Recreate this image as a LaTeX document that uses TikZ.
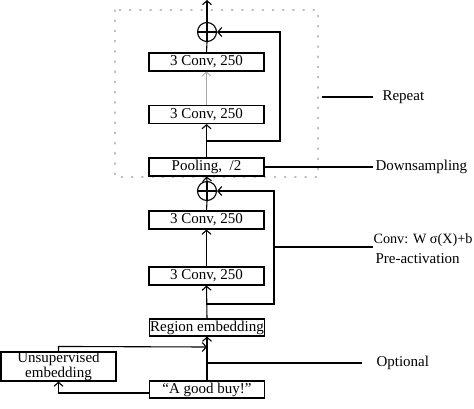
\documentclass[tikz,border=0pt]{standalone}
\usepackage{fontspec}
\setmainfont{Liberation Serif}
\usetikzlibrary{arrows.meta}
\begin{document}
\begin{tikzpicture}[x=1pt,y=-1pt, line width=1.1pt,
  txt/.style={font=\fontsize{15}{16}\selectfont},
  box/.style={draw, txt, minimum width=115pt, minimum height=18pt, inner sep=0pt},
  lbl/.style={txt, anchor=west, inner sep=0pt},
  arr/.style={-{Straight Barb[length=4pt,width=9pt]}},
  plus/.style={draw, circle, minimum size=19pt, inner sep=0pt,
    path picture={\draw (path picture bounding box.north) -- (path picture bounding box.south)
                        (path picture bounding box.west) -- (path picture bounding box.east);}}]
\useasboundingbox (0,0) rectangle (474,408);
% repeat region
\draw[black!25, line width=1.5pt, dash pattern=on 1.2pt off 9pt, line cap=round] (115,10) rectangle (318,177);
% nodes
\node[plus] (p1) at (207,32) {};
\node[box] (c1) at (206.5,62) {3 Conv, 250};
\node[box] (c2) at (206.5,114.5) {3 Conv, 250};
\node[box] (pool) at (206.5,167) {Pooling,~~/2};
\node[plus] (p2) at (207,191) {};
\node[box] (c3) at (206.5,220) {3 Conv, 250};
\node[box] (c4) at (206.5,276) {3 Conv, 250};
\node[box, minimum height=17pt] (reg) at (207,327.5) {Region embedding};
\node[box, minimum height=29pt, align=center, font=\fontsize{15}{15}\selectfont] (unsup) at (58.5,366.5) {Unsupervised\\embedding};
\node[box, minimum height=17pt] (buy) at (207,389.5) {“A good buy!”};
% labels
\node[lbl] (rep) at (382,97) {Repeat};
\node[lbl] (down) at (375,167) {Downsampling};
\node[lbl, font=\fontsize{14.2}{16}\selectfont] (conv) at (373,240) {Conv: W σ(X)+b};
\node[lbl] (pre) at (375,259) {Pre-activation};
\node[lbl] (opt) at (376,363) {Optional};
% coordinates
\coordinate (top) at (207,0);
\coordinate (s1) at (207,141);
\coordinate (s2) at (207,304);
\coordinate (k) at (274,247);
\coordinate (kend) at (373,247);
\coordinate (r) at (322,97);
\coordinate (jn) at (207,347);
\coordinate (o) at (207,363);
% connectors
\draw[arr] (p1) -- (top);
\draw (c1.north) -- (p1.south);
\draw[arr, black!35, line width=0.8pt] (c2.north) -- (c1.south);
\draw[arr] (pool.north) -- (c2.south);
\draw[arr] (s1) -- ++(73,0) |- (p1.east);
\draw[arr] (p2.north) -- (pool.south);
\draw (c3.north) -- (p2.south);
\draw[arr] (c4.north) -- (c3.south);
\draw[arr] (reg.north) -- (c4.south);
\draw[arr] (s2) -- ++(67,0) |- (p2.east);
\draw (k) -- (kend);
\draw[arr] (buy.north) -- (reg.south);
\draw[arr] (unsup.north) -- ++(0,-5) -- (jn);
\draw[arr] ([yshift=-3.5pt]buy.west) -| (unsup.south);
\draw (o) -- ([xshift=-14pt]opt.west);
\draw (pool.east) -- ([xshift=-2pt]down.west);
\draw (r) -- ([xshift=-9pt]rep.west);
\end{tikzpicture}
\end{document}
